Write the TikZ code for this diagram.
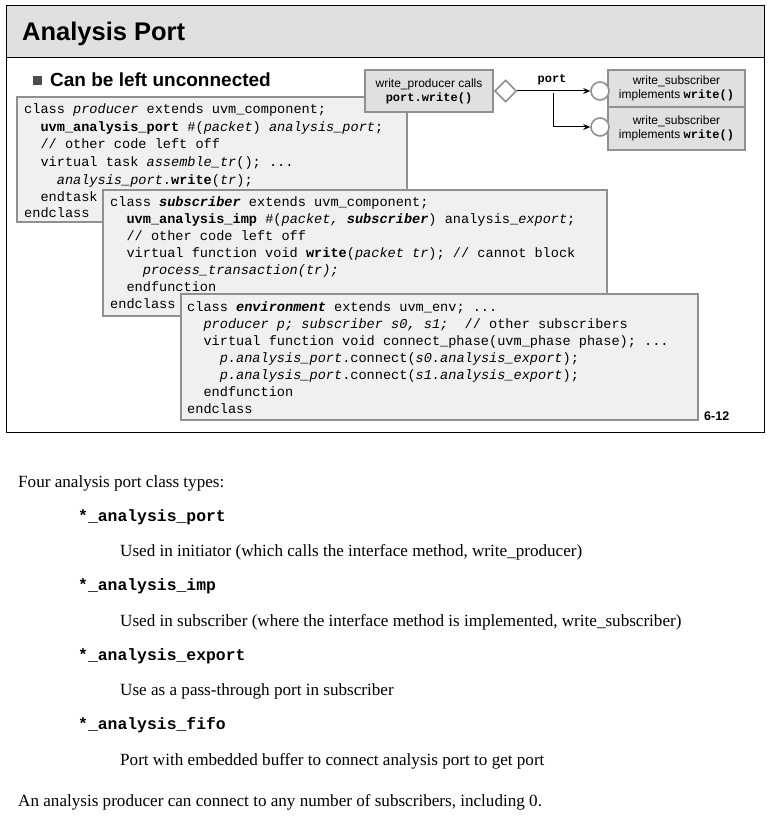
\documentclass[tikz,border=0pt]{standalone}
\usepackage{fontspec}
\setmainfont{Liberation Serif}
\setsansfont{Liberation Sans}
\setmonofont{Liberation Mono}
\usetikzlibrary{shapes.geometric,arrows.meta}
\definecolor{boxfill}{HTML}{F0F0F0}
\definecolor{boxline}{HTML}{909090}
\definecolor{titlefill}{HTML}{E0E0E0}
\begin{document}
\begin{tikzpicture}[x=1pt,y=-1pt,
  code/.style={anchor=base west,inner sep=0pt,font=\fontsize{13.6}{16}\selectfont\ttfamily},
  codebox/.style={draw=boxline,line width=1.6pt,fill=boxfill},
  small/.style={font=\fontsize{12}{14}\selectfont\sffamily,align=center,inner sep=0pt},
  gbox/.style={draw=boxline,line width=1.6pt,fill=titlefill},
  body/.style={anchor=base west,inner sep=0pt,font=\fontsize{17.1}{20}\selectfont},
  item/.style={anchor=base west,inner sep=0pt,font=\fontsize{16.4}{19}\selectfont\ttfamily\bfseries}]
\useasboundingbox (0,0) rectangle (770,821);
\fill[white] (0,0) rectangle (770,821);
% slide frame
\draw[line width=1pt,fill=white] (6,6) rectangle (764,432);
\draw[line width=1pt,fill=titlefill] (6,6) rectangle (764,58);
\node[anchor=base west,inner sep=0pt,font=\fontsize{25.5}{30}\selectfont\sffamily\bfseries] (title) at (22,41) {Analysis Port};
\node[draw=black!70,fill=black!70,minimum size=8pt,inner sep=0pt] (sq) at (37,80) {};
\node[anchor=base west,inner sep=0pt,font=\fontsize{19}{22}\selectfont\sffamily\bfseries] (bullet) at (50,87) {Can be left unconnected};
% box 1
\draw[codebox] (17,97) rectangle (407,222);
\node[code] (a1) at (24,114) {class \textit{producer} extends uvm\_component;};
\node[code] (a2) at (24,131.5) {\ \ \textbf{uvm\_analysis\_port} \#(\textit{packet}) \textit{analysis\_port};};
\node[code] (a3) at (24,149) {\ \ // other code left off};
\node[code] (a4) at (24,166.5) {\ \ virtual task \textit{assemble\_tr}(); ...};
\node[code] (a5) at (24,184) {\ \ \ \ \textit{analysis\_port}.\textbf{write}(\textit{tr});};
\node[code] (a6) at (24,201) {\ \ endtask};
\node[code] (a7) at (24,217) {endclass};
% box 2
\draw[codebox] (103,190) rectangle (607,316);
\node[code] (b1) at (110,206) {class \textit{\textbf{subscriber}} extends uvm\_component;};
\node[code] (b2) at (110,223.5) {\ \ \textbf{uvm\_analysis\_imp} \#(\textit{packet, \textbf{subscriber}}) analysis\_\textit{export};};
\node[code] (b3) at (110,240.5) {\ \ // other code left off};
\node[code] (b4) at (110,257.5) {\ \ virtual function void \textbf{write}(\textit{packet tr}); // cannot block};
\node[code] (b5) at (110,274.5) {\ \ \ \ \textit{process\_transaction(tr);}};
\node[code] (b6) at (110,291.5) {\ \ endfunction};
\node[code] (b7) at (110,308) {endclass};
% box 3
\draw[codebox] (181,294) rectangle (698,420);
\node[code] (c1) at (187,311) {class \textit{\textbf{environment}} extends uvm\_env; ...};
\node[code] (c2) at (187,328) {\ \ \textit{producer p; subscriber s0, s1;}\ \ // other subscribers};
\node[code] (c3) at (187,345) {\ \ virtual function void connect\_phase(uvm\_phase phase); ...};
\node[code] (c4) at (187,362) {\ \ \ \ \textit{p.analysis\_port}.connect(\textit{s0.analysis\_export});};
\node[code] (c5) at (187,379) {\ \ \ \ \textit{p.analysis\_port}.connect(\textit{s1.analysis\_export});};
\node[code] (c6) at (187,396) {\ \ endfunction};
\node[code] (c7) at (187,413) {endclass};
\node[anchor=base west,inner sep=0pt,font=\fontsize{12.5}{14}\selectfont\sffamily\bfseries] (pg) at (704,420) {6-12};
% diagram
\node[gbox,small,minimum width=128pt,minimum height=42pt] (prod) at (429,91) {write\_producer calls\\{\ttfamily\bfseries port.write()}};
\node[diamond,draw=boxline,line width=1.6pt,fill=white,minimum width=22pt,minimum height=22pt,inner sep=0pt,anchor=west] (dia) at (prod.east) {};
\node[gbox,small,minimum width=137pt,minimum height=37pt] (s1) at (676.5,88.5) {write\_subscriber\\implements {\ttfamily\bfseries write()}};
\node[gbox,small,minimum width=137pt,minimum height=43pt] (s2) at (676.5,128.5) {write\_subscriber\\implements {\ttfamily\bfseries write()}};
\node[circle,draw=boxline,line width=1.6pt,fill=white,minimum size=18pt,inner sep=0pt] (o1) at (600,91) {};
\node[circle,draw=boxline,line width=1.6pt,fill=white,minimum size=18pt,inner sep=0pt] (o2) at (600,127) {};
\coordinate (br) at (553,93);
\draw[line width=1pt,-{Stealth[length=7pt,width=6pt]}] (dia.east) -- (o1.west);
\draw[line width=1pt,-{Stealth[length=7pt,width=6pt]}] (br) |- (o2.west);
\node[anchor=base,inner sep=0pt,font=\fontsize{12}{14}\selectfont\ttfamily\bfseries] (portlbl) at (552,83) {port};
% text below
\node[body] (t0) at (18,487) {Four analysis port class types:};
\node[item] (i1) at (78,521) {*\_analysis\_port};
\node[body] (d1) at (120,556) {Used in initiator (which calls the interface method, write\_producer)};
\node[item] (i2) at (78,590) {*\_analysis\_imp};
\node[body] (d2) at (120,626) {Used in subscriber (where the interface method is implemented, write\_subscriber)};
\node[item] (i3) at (78,660) {*\_analysis\_export};
\node[body] (d3) at (120,695) {Use as a pass-through port in subscriber};
\node[item] (i4) at (78,729) {*\_analysis\_fifo};
\node[body] (d4) at (120,765) {Port with embedded buffer to connect analysis port to get port};
\node[body] (t5) at (18,806) {An analysis producer can connect to any number of subscribers, including 0.};
\end{tikzpicture}
\end{document}
